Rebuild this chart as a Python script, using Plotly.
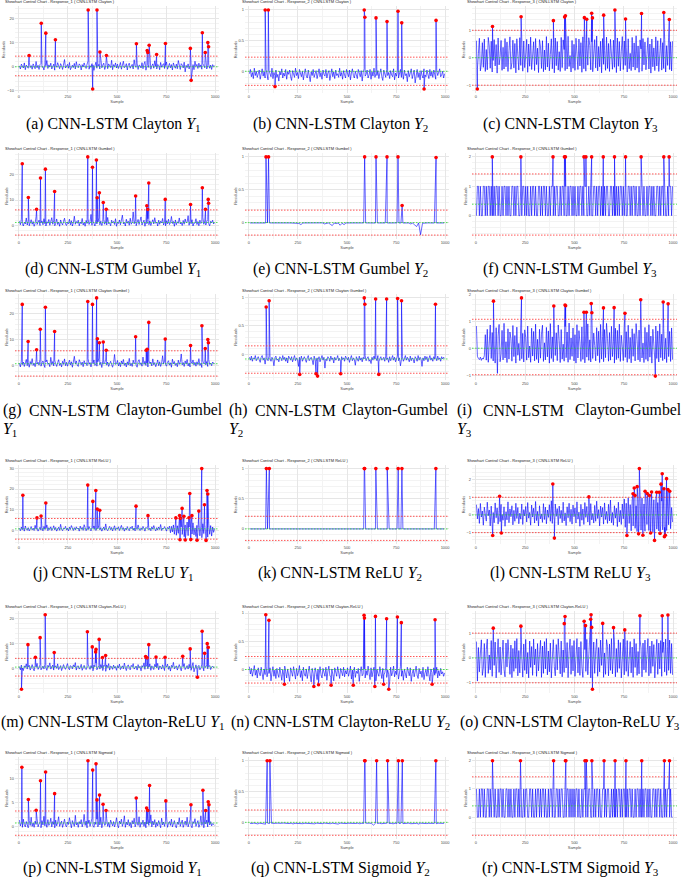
import plotly.graph_objects as go

# ---------------------------------------------------------------------------
# residual series (one base value per ~5
# samples, plus the spikes / out-of-control points listed separately)
# limits are (UCL, centre, LCL)
# ---------------------------------------------------------------------------

# (a) CNN-LSTM Clayton, Response_1
a_base = [0.4, -0.9, 1.1, 0.2, -0.5, 1.6, -1.2, 0.7, 0.1, -0.6,
          1.9, -0.3, 0.5, -1.0, 1.2, 0.3, -0.8, 2.2, -0.4, 0.6,
          -1.1, 0.9, 1.4, -0.2, 0.0, -1.3, 1.0, 0.4, 2.6, -0.7,
          0.8, -0.1, 1.5, -0.9, 0.3, 1.1, -1.4, 0.6, -0.2, 1.7,
          0.2, -0.8, 1.3, 0.5, -1.1, 0.9, 3.0, -0.5, 0.4, 1.0,
          -0.6, 1.8, -1.2, 0.2, 0.7, -0.3, 1.4, -0.9, 2.1, 0.1,
          -0.4, 1.2, 0.6, -1.3, 0.9, -0.1, 1.6, 0.3, -0.7, 1.1,
          2.4, -1.0, 0.5, -0.2, 1.3, 0.8, -1.5, 0.4, 1.9, -0.6,
          0.2, 1.0, -0.9, 3.3, -0.4, 0.7, 1.5, -1.1, 0.3, 2.0,
          -0.8, 1.2, 0.6, -0.3, 2.7, -1.2, 0.9, 0.1, 1.6, -0.5,
          1.1, -0.7, 0.4, 1.8, -1.0, 0.6, 2.3, -0.4, 0.0, 1.3,
          -1.3, 0.8, 1.5, -0.6, 0.3, 1.0, -0.9, 2.9, 0.2, -0.2,
          1.4, -1.1, 0.7, 0.5, -0.5, 1.7, -0.8, 1.1, 2.2, -1.4,
          0.3, 0.9, -0.3, 1.6, -1.0, 0.4, 1.2, -0.6, 2.5, 0.1,
          -0.9, 1.0, 0.6, -1.2, 1.8, -0.2, 0.8, 1.3, -0.7, 0.5,
          2.0, -1.0, 0.2, 1.4, -0.4, 0.9, -1.3, 1.6, 0.3, -0.6,
          1.1, -0.8, 2.6, 0.0, -1.1, 1.3, 0.7, -0.5, 1.9, -2.1,
          0.6, -0.3, 1.2, -0.9, 0.4, 1.7, -0.6, 0.9, -1.2, 2.3,
          0.2, 1.0, -0.7, 1.5, -0.2, 0.8, -1.0, 1.3, 0.5, -0.4,
          1.8, -0.9, 0.3, 1.1, -0.6, 0.7, -1.1, 0.9, 0.2, 0.4]
a_spk = [(52, 4.7), (114, 18.0), (137, 13.9), (186, 11.2), (353, 23.5), (376, -9.2),
         (398, 23.5), (413, 6.1), (446, 4.7), (599, 9.5), (654, 6.7), (657, 5.9),
         (664, 8.9), (702, 5.1), (747, 9.6), (874, 7.6), (878, -5.6), (935, 14.1),
         (950, 5.9), (963, 10.0), (967, 8.3)]
a_lim = (4.4, 0.0, -3.7)

# (b) CNN-LSTM Clayton, Response_2
b_base = [-0.04, 0.03, -0.09, -0.02, -0.12, 0.05, -0.07, 0.00, -0.10, -0.03,
          0.02, -0.13, -0.05, 0.04, -0.08, -0.01, -0.11, 0.03, -0.06, -0.14,
          0.01, -0.04, -0.09, 0.05, -0.12, -0.02, -0.07, 0.02, -0.10, -0.05,
          -0.16, 0.00, -0.06, 0.04, -0.11, -0.03, -0.08, 0.03, -0.13, -0.01,
          -0.05, 0.02, -0.09, -0.15, 0.01, -0.04, -0.10, 0.05, -0.07, -0.02,
          -0.12, 0.03, -0.06, -0.09, 0.00, -0.14, -0.03, 0.04, -0.08, -0.11,
          0.02, -0.05, -0.17, -0.01, -0.07, 0.03, -0.10, -0.04, 0.01, -0.12,
          -0.06, 0.04, -0.09, -0.02, -0.13, 0.02, -0.05, -0.08, 0.03, -0.11,
          -0.03, 0.01, -0.15, -0.06, 0.04, -0.09, -0.01, -0.12, 0.02, -0.07,
          -0.04, -0.10, 0.05, -0.08, -0.02, -0.13, 0.01, -0.06, -0.11, 0.03,
          -0.05, -0.09, 0.02, -0.14, -0.03, 0.04, -0.07, -0.11, 0.00, -0.06,
          -0.12, 0.03, -0.04, -0.09, 0.01, -0.16, -0.02, 0.04, -0.08, -0.05,
          0.02, -0.11, -0.06, 0.03, -0.13, -0.01, -0.08, 0.05, -0.10, -0.04,
          -0.07, 0.01, -0.12, -0.03, 0.04, -0.09, -0.15, 0.02, -0.05, -0.10,
          0.03, -0.07, -0.02, -0.12, 0.01, -0.06, -0.09, 0.04, -0.14, -0.03,
          -0.08, 0.02, -0.11, -0.05, 0.03, -0.10, -0.01, -0.13, 0.02, -0.07,
          -0.04, -0.17, 0.01, -0.09, -0.03, 0.04, -0.12, -0.06, 0.02, -0.19,
          -0.05, 0.03, -0.10, -0.02, -0.14, 0.01, -0.07, -0.11, 0.04, -0.06,
          -0.09, 0.02, -0.04, -0.12, 0.03, -0.08, -0.01, -0.10, 0.02, -0.05,
          -0.13, 0.01, -0.07, -0.03, 0.04, -0.09, -0.06, 0.00, -0.11, -0.04]
b_spk = [(83, 1.0), (99, 1.0), (133, -0.25), (588, 1.0), (591, 0.88), (648, 0.87),
         (704, 0.81), (760, 0.98), (779, 0.79), (893, -0.29), (954, 0.83)]
b_lim = (0.23, 0.0, -0.23)

# (c) CNN-LSTM Clayton, Response_3
c_base = [0.62, -0.40, 0.15, 0.71, -0.48, -0.22, 0.55, -0.35, 0.68, -0.50,
          0.30, -0.44, 0.74, 0.42, -0.38, 0.60, -0.52, -0.10, 0.66, -0.30,
          0.48, -0.56, 0.72, -0.26, 0.05, 0.63, -0.46, 0.38, -0.41, 0.70,
          -0.33, 0.57, -0.50, 0.25, 0.76, -0.42, -0.18, 0.64, -0.37, 0.52,
          -0.55, 0.69, 0.20, -0.45, 0.73, -0.28, 0.44, -0.49, 0.61, -0.36,
          0.10, 0.67, -0.53, 0.50, -0.31, 0.75, -0.43, -0.05, 0.58, -0.47,
          0.70, -0.25, 0.35, -0.54, 0.66, 0.40, -0.39, 0.62, -0.51, 0.28,
          -0.44, 0.77, -0.34, 0.53, -0.48, 0.12, 0.69, -0.40, 0.46, -0.55,
          0.72, -0.29, 0.59, -0.45, 0.22, -0.50, 0.74, -0.36, 0.65, 0.30,
          -0.47, 0.56, -0.41, 0.78, -0.32, 0.08, -0.52, 0.63, -0.38, 0.49,
          -0.46, 0.71, 0.18, -0.43, 0.68, -0.30, 0.55, -0.53, 0.76, -0.40,
          0.34, -0.49, 0.62, -0.27, 0.73, 0.45, -0.44, 0.58, -0.51, 0.14,
          0.66, -0.37, 0.79, -0.48, 0.41, -0.33, 0.60, -0.55, 0.70, -0.24,
          0.27, -0.46, 0.75, -0.39, 0.52, -0.50, 0.67, 0.02, -0.42, 0.64,
          -0.35, 0.47, -0.54, 0.72, -0.31, 0.59, -0.48, 0.24, 0.77, -0.43,
          0.61, -0.28, 0.38, -0.52, 0.69, -0.40, 0.16, -0.47, 0.74, -0.34,
          0.54, -0.45, 0.80, -0.37, 0.43, -0.53, 0.65, 0.32, -0.49, 0.70,
          -0.26, 0.57, -0.44, 0.11, 0.73, -0.41, 0.50, -0.56, 0.68, -0.33,
          0.36, -0.47, 0.76, -0.30, 0.62, -0.50, 0.21, 0.71, -0.45, 0.55,
          -0.39, 0.66, -0.52, 0.44, -0.28, 0.75, -0.43, 0.58, -0.48, 0.60]
c_spk = [(7, -1.14), (84, 1.14), (229, 1.49), (393, 1.35), (450, 1.48), (454, 1.53),
         (550, 1.46), (562, 1.40), (587, 1.62), (591, 1.45), (648, 1.55), (705, 1.74),
         (759, 1.41), (840, 1.61), (953, 1.65), (981, 1.39)]
c_lim = (1.0, 0.0, -1.0)

# (d) CNN-LSTM Gumbel, Response_1
d_base = [1.6, 0.2, 2.4, 0.7, -0.3, 1.3, 0.5, 2.9, 0.1, 1.8,
          -0.2, 1.0, 2.2, 0.4, 1.5, -0.4, 0.8, 3.4, 0.3, 1.2,
          2.0, -0.1, 0.9, 1.7, 0.2, 2.6, 0.6, -0.3, 1.4, 0.8,
          2.3, 0.0, 1.1, 3.0, 0.4, 1.9, -0.2, 0.7, 2.5, 0.3,
          1.3, -0.4, 2.1, 0.9, 0.1, 1.6, 2.8, 0.5, -0.1, 1.2,
          0.6, 2.4, 0.2, 1.8, -0.3, 1.0, 3.6, 0.4, 1.5, 0.8,
          2.0, -0.2, 1.3, 0.6, 2.7, 0.1, 1.1, -0.4, 1.9, 0.7,
          2.5, 0.3, 1.4, 4.3, 0.0, 1.7, 0.9, -0.3, 2.2, 0.5,
          1.2, 2.9, 0.2, 1.6, -0.1, 0.8, 2.3, 0.4, 1.9, 0.1,
          3.1, 0.6, 1.0, -0.2, 2.0, 0.9, 1.5, 0.3, 2.6, -0.4,
          1.3, 0.7, 2.1, 0.2, 1.8, 4.0, 0.5, 1.1, -0.3, 2.4,
          0.8, 1.6, 0.0, 2.8, 0.4, 1.2, 5.3, 0.6, 1.9, -0.2,
          1.0, 2.3, 0.3, 1.5, 3.3, 0.1, 0.9, 2.0, -0.4, 1.4,
          0.6, 2.6, 0.2, 1.7, -0.1, 1.1, 2.2, 0.5, 3.0, 0.8,
          1.3, -0.3, 2.0, 0.4, 1.6, 0.9, 2.7, 0.1, 1.2, -0.2,
          1.8, 0.6, 2.4, 0.3, 1.0, 3.5, 0.7, 1.5, -0.4, 2.1,
          0.2, 1.4, 0.8, 2.9, 0.5, 1.1, -0.1, 1.9, 0.4, 2.5,
          0.9, 1.3, 3.8, 0.0, 1.7, 0.6, 2.2, -0.3, 1.0, 0.8,
          2.6, 0.3, 1.5, -0.2, 2.0, 0.7, 1.2, 3.1, 0.4, 1.8,
          0.1, 1.4, 2.3, 0.6, -0.2, 1.6, 0.9, 2.0, 0.5, 1.1]
d_spk = [(17, 24.4), (48, 11.0), (90, 6.3), (110, 18.75), (135, 22.25), (182, 13.4),
         (351, 27.1), (375, 23.0), (395, 25.9), (399, 10.9), (410, 12.9), (430, 9.0),
         (445, 6.3), (595, 11.6), (652, 7.75), (657, 6.25), (662, 16.75), (746, 10.25),
         (875, 8.25), (935, 14.9), (951, 6.3), (965, 10.25), (967, 8.75)]
d_lim = (6.1, 1.1, -3.9)

# (e) CNN-LSTM Gumbel, Response_2
e_base = [-0.005, -0.005, -0.006, -0.005, -0.005, -0.004, -0.005, -0.005, -0.006, -0.005,
          -0.005, -0.005, -0.004, -0.005, -0.006, -0.005, -0.005, -0.005, -0.004, -0.005,
          -0.005, -0.006, -0.005, -0.005, -0.005, -0.012, -0.030, -0.006, -0.005, -0.005,
          -0.004, -0.005, -0.005, -0.006, -0.005, -0.005, -0.005, -0.004, -0.020, -0.008,
          -0.005, -0.025, -0.045, -0.006, -0.015, -0.005, -0.040, -0.010, -0.030, -0.005,
          -0.005, -0.006, -0.005, -0.005, -0.004, -0.005, -0.005, -0.006, -0.005, -0.005,
          -0.005, -0.004, -0.005, -0.005, -0.006, -0.005, -0.005, -0.005, -0.004, -0.005,
          -0.005, -0.006, -0.005, -0.005, -0.005, -0.004, -0.005, -0.005, -0.006, -0.005,
          -0.012, -0.005, -0.020, -0.008, -0.035, -0.060, -0.005, -0.185, -0.010, -0.005,
          -0.005, -0.004, -0.005, -0.005, -0.006, -0.005, -0.005, -0.005, -0.004, -0.005]
e_spk = [(87, 1.0), (100, 1.0), (590, 1.0), (648, 1.0), (704, 1.0), (760, 1.0),
         (781, 0.26), (954, 0.99)]
e_lim = (0.19, 0.0, -0.19)

# (f) CNN-LSTM Gumbel, Response_3 (two levels, spikes to the third)
f_bits = ("0110100110101101001011010010110101001101011001011010100101101001101011010010110101100101101001011010"
          "1001011010110010100110101101001011001101001010110101001101011010010110100101101010011010110100101101")
f_spk = [(83, 2), (228, 2), (391, 2), (449, 2), (454, 2), (548, 2), (558, 2), (587, 2),
         (646, 2), (703, 2), (759, 2), (838, 2), (953, 2), (980, 2)]
f_lim = (1.42, 0.39, -0.66)

# (g) CNN-LSTM Clayton-Gumbel, Response_1
g_base = [1.1, -0.4, 2.0, 0.5, 1.5, -0.2, 0.8, 2.5, 0.1, 1.3,
          -0.5, 1.7, 0.6, 2.8, 0.2, 1.0, -0.3, 2.2, 0.7, 1.4,
          0.3, 2.6, -0.1, 1.2, 1.9, 0.4, -0.6, 1.5, 2.3, 0.6,
          1.1, -0.3, 3.3, 0.5, 1.7, 0.0, 2.1, 0.9, -0.2, 1.3,
          2.4, 0.2, 1.0, -0.4, 1.8, 0.6, 2.7, 0.1, 1.4, -0.1,
          0.9, 2.2, 0.4, 1.6, -0.5, 1.1, 3.7, 0.7, 1.9, 0.3,
          -0.2, 2.4, 1.0, 0.4, 1.5, -0.3, 2.0, 0.8, 1.2, 0.1,
          2.8, 0.6, 1.3, -0.4, 1.7, 0.9, 2.3, 0.2, 1.0, -0.1,
          1.6, 3.0, 0.4, 1.4, -0.6, 2.0, 0.7, 1.1, 2.6, 0.3,
          1.5, -0.2, 0.9, 1.8, 0.5, -0.5, 1.2, 4.4, 0.6, 0.8,
          2.1, 0.0, 1.3, -0.3, 1.9, 0.7, 2.5, 0.2, 1.1, -0.4,
          1.6, 0.4, 2.9, 0.1, 1.0, -0.2, 2.2, 0.8, 1.4, 0.3,
          -0.5, 1.7, 2.4, 0.5, 1.2, -0.1, 3.4, 0.6, 1.8, 0.2,
          1.0, -0.4, 2.1, 0.9, 1.5, 0.0, 2.7, 0.4, 1.3, -0.3,
          0.8, 2.3, 0.1, 1.6, -0.2, 1.1, 3.9, 0.7, 1.9, 0.5,
          -0.1, 1.4, 2.0, 0.3, 1.2, -0.5, 2.6, 0.8, 1.7, 0.2,
          1.0, -0.3, 2.2, 0.6, 1.5, 4.6, 0.4, 1.3, -0.2, 1.9,
          0.7, 2.5, 0.0, 1.1, -0.4, 1.8, 0.9, 2.3, 0.3, 1.4,
          -0.1, 1.6, 0.5, 2.8, 0.2, 1.0, -0.6, 2.0, 0.8, 1.2,
          0.4, 1.7, -0.2, 2.4, 0.6, 1.1, 0.1, 1.5, 0.9, 0.7]
g_spk = [(17, 23.6), (47, 9.4), (90, 6.2), (109, 14.1), (135, 22.5), (182, 13.2),
         (351, 24.7), (375, 23.6), (396, 26.1), (400, 10.4), (410, 8.9), (430, 9.2),
         (445, 6.0), (595, 11.2), (649, 6.0), (654, 6.4), (662, 16.7), (746, 10.3),
         (875, 7.8), (933, 15.4), (950, 6.7), (963, 10.1), (966, 8.9)]
g_lim = (5.8, 0.85, -3.9)

# (h) CNN-LSTM Clayton-Gumbel, Response_2
h_base = [-0.05, -0.10, -0.03, -0.12, -0.06, -0.08, -0.02, -0.11, -0.07, -0.04,
          -0.09, -0.14, -0.05, -0.02, -0.10, -0.06, -0.17, -0.04, -0.08, -0.11,
          -0.03, -0.07, -0.12, -0.05, -0.09, -0.20, -0.06, -0.03, -0.10, -0.08,
          -0.13, -0.04, -0.07, -0.11, -0.02, -0.09, -0.05, -0.12, -0.06, -0.15,
          -0.03, -0.08, -0.10, -0.04, -0.13, -0.07, -0.02, -0.11, -0.06, -0.09,
          -0.21, -0.05, -0.10, -0.03, -0.12, -0.08, -0.04, -0.09, -0.14, -0.06,
          -0.02, -0.11, -0.07, -0.05, -0.10, -0.18, -0.03, -0.08, -0.12, -0.06,
          -0.09, -0.04, -0.13, -0.07, -0.02, -0.10, -0.05, -0.24, -0.08, -0.11,
          -0.04, -0.07, -0.12, -0.03, -0.09, -0.06, -0.15, -0.05, -0.10, -0.08,
          -0.02, -0.11, -0.07, -0.13, -0.04, -0.09, -0.06, -0.12, -0.03, -0.08,
          -0.10, -0.05, -0.14, -0.07, -0.02, -0.11, -0.06, -0.09, -0.19, -0.04,
          -0.08, -0.12, -0.03, -0.10, -0.06, -0.13, -0.05, -0.08, -0.02, -0.11,
          -0.07, -0.04, -0.12, -0.09, -0.16, -0.05, -0.10, -0.03, -0.08, -0.06,
          -0.11, -0.02, -0.13, -0.07, -0.04, -0.10, -0.08, -0.05, -0.12, -0.03,
          -0.09, -0.06, -0.14, -0.04, -0.11, -0.07, -0.02, -0.10, -0.05, -0.13,
          -0.08, -0.03, -0.11, -0.06, -0.20, -0.09, -0.04, -0.12, -0.07, -0.02,
          -0.10, -0.05, -0.08, -0.13, -0.03, -0.11, -0.06, -0.09, -0.15, -0.04,
          -0.07, -0.12, -0.02, -0.10, -0.05, -0.08, -0.21, -0.06, -0.11, -0.03,
          -0.09, -0.04, -0.13, -0.07, -0.02, -0.10, -0.06, -0.12, -0.04, -0.08,
          -0.05, -0.11, -0.03, -0.09, -0.06, -0.12, -0.04, -0.08, -0.05, -0.07]
h_spk = [(88, 0.83), (103, 0.94), (259, -0.35), (342, -0.34), (350, -0.38), (468, -0.34),
         (588, 0.99), (591, 0.88), (646, 0.97), (662, -0.35), (702, 0.97), (758, 0.98),
         (778, 0.94), (951, 0.88)]
h_lim = (0.15, -0.08, -0.33)

# (i) CNN-LSTM Clayton-Gumbel, Response_3
i_base = [0.82, -0.30, -0.38, -0.42, -0.33, -0.45, -0.36, -0.40, -0.28, 0.50,
          -0.44, 0.70, -0.52, 0.30, 0.86, -0.38, 0.58, -0.47, 0.12, -0.55,
          0.76, -0.34, 0.45, 0.88, -0.50, -0.22, 0.66, -0.43, 0.92, -0.36,
          0.24, -0.53, 0.72, -0.40, 0.60, 0.35, -0.48, 0.84, -0.31, 0.47,
          -0.55, 0.78, -0.26, 0.18, -0.46, 0.90, -0.39, 0.55, -0.51, 0.68,
          0.40, -0.44, 0.82, -0.35, 0.08, -0.52, 0.74, -0.29, 0.62, -0.47,
          0.89, -0.41, 0.33, -0.54, 0.70, -0.37, 0.52, 0.85, -0.49, 0.20,
          -0.43, 0.77, -0.32, 0.64, -0.55, 0.91, -0.38, 0.42, -0.50, 0.73,
          -0.27, 0.57, -0.46, 0.86, 0.28, -0.53, 0.69, -0.40, 0.15, -0.48,
          0.80, -0.35, 0.60, -0.52, 0.93, -0.42, 0.38, -0.30, 0.75, -0.47,
          0.50, -0.55, 0.87, -0.36, 0.65, 0.22, -0.49, 0.79, -0.41, 0.46,
          -0.54, 0.71, -0.33, 0.90, -0.45, 0.31, -0.51, 0.83, -0.38, 0.56,
          0.10, -0.47, 0.76, -0.28, 0.63, -0.53, 0.88, -0.40, 0.43, -0.50,
          0.69, -0.35, 0.92, 0.36, -0.48, 0.58, -0.44, 0.81, -0.31, 0.26,
          -0.55, 0.74, -0.42, 0.66, -0.37, 0.89, -0.49, 0.48, 0.05, -0.46,
          0.78, -0.34, 0.61, -0.52, 0.85, -0.39, 0.40, -0.54, 0.72, -0.30,
          0.54, -0.47, 0.91, 0.32, -0.43, 0.67, -0.50, 0.84, -0.36, 0.19,
          -0.53, 0.77, -0.41, 0.59, -0.48, 0.87, -0.33, 0.45, -0.55, 0.70,
          0.27, -0.44, 0.82, -0.38, 0.64, -0.51, 0.90, -0.35, 0.52, -0.46,
          0.73, -0.40, 0.37, -0.53, 0.80, -0.31, 0.62, -0.49, 0.75, -0.42]
i_spk = [(89, 1.74), (109, -0.93), (231, 1.86), (395, 1.56), (452, 1.60), (455, 1.57),
         (548, 1.33), (560, 1.33), (585, 1.65), (588, 1.31), (647, 1.49), (701, 1.50),
         (756, 1.29), (836, 1.79), (910, -1.03), (950, 1.71), (975, 1.64)]
i_lim = (1.07, 0.0, -0.98)

# (j) CNN-LSTM ReLU, Response_1
j_base = [1.0, -0.2, 1.6, 0.3, 1.1, -0.4, 2.1, 0.6, 0.0, 1.3,
          -0.3, 0.8, 1.8, 0.2, 1.0, -0.1, 2.4, 0.5, 1.2, -0.4,
          0.7, 1.5, 0.1, 1.1, -0.3, 1.9, 0.4, 0.9, 2.6, -0.2,
          1.3, 0.3, 1.7, -0.1, 0.6, 2.2, 0.2, 1.4, -0.4, 0.8,
          1.5, 0.0, 2.9, 0.5, -0.2, 1.2, 0.7, 1.9, 0.1, 1.0,
          -0.3, 1.6, 0.4, 2.3, 0.8, -0.1, 1.3, 0.2, 1.7, 0.6,
          1.1, -0.4, 2.0, 0.5, 1.4, 0.0, 2.7, 0.9, -0.2, 1.2,
          0.3, 1.8, 0.6, -0.3, 1.5, 0.9, 2.1, 0.4, -0.1, 1.1,
          0.7, 2.5, 0.2, 1.3, -0.4, 0.8, 1.6, 0.1, 3.1, 0.5,
          -0.2, 1.0, 1.9, 0.3, 1.4, -0.3, 0.7, 2.2, 0.0, 1.2,
          0.6, 1.7, -0.1, 0.9, 2.4, 0.4, 1.3, -0.4, 1.0, 0.2,
          1.8, 0.5, -0.2, 1.5, 0.8, 2.0, 0.1, 1.1, -0.3, 1.6,
          0.4, 2.6, 0.7, -0.1, 1.2, 0.3, 1.9, 0.6, -0.4, 1.4,
          0.9, 2.1, 0.2, 1.0, -0.2, 1.7, 0.5, 2.3, 0.8, -0.3,
          1.3, 0.1, 1.6, 0.4, 2.8, -0.1, 1.1, 0.6, 1.8, 0.2,
          -0.4, 1.4, 0.7, 2.0, -1.2, 1.9, -0.8, 2.6, -1.9, 3.0,
          -2.4, 2.2, -1.5, 3.8, -2.9, 1.7, -2.0, 3.4, -3.1, 2.6,
          -1.3, 4.0, -2.6, 1.5, -3.4, 2.9, -1.8, 3.6, -2.2, 1.2,
          -3.0, 2.4, -1.1, 3.9, -2.7, 2.0, -3.6, 3.2, -1.6, 2.7,
          -2.3, 1.8, -3.3, 3.5, -1.9, 2.3, -2.8, 1.6, -1.0, 0.9]
j_spk = [(20, 17.0), (92, 6.0), (113, 6.9), (137, 13.2), (351, 21.9), (377, 14.0),
         (392, 19.3), (399, 10.3), (412, 9.7), (597, 11.7), (658, 7.1), (800, 6.0),
         (819, 7.2), (821, -4.6), (823, 5.8), (832, 10.6), (841, 6.8), (848, -4.7),
         (867, 6.1), (871, 17.8), (876, -4.5), (882, 7.1), (908, -4.8), (917, 9.3),
         (932, 29.9), (946, 12.4), (954, -4.9), (959, 19.3), (963, 17.6)]
j_lim = (5.7, 0.7, -4.3)

# (k) CNN-LSTM ReLU, Response_2 (flat at zero apart from the spikes)
k_base = [0.0, 0.0, 0.0, 0.0, 0.0, 0.0, 0.0, 0.0, 0.0, 0.0,
          0.0, 0.0, 0.0, 0.0, 0.0, 0.0, 0.0, 0.0, 0.0, 0.0,
          0.0, 0.0, 0.0, 0.0, 0.0, 0.0, 0.0, 0.0, 0.0, 0.0,
          0.0, 0.0, 0.0, 0.0, 0.0, 0.0, 0.0, 0.0, 0.0, 0.0,
          0.0, 0.0, 0.0, 0.0, 0.0, 0.0, 0.0, 0.0, 0.0, 0.0,
          0.0, 0.0, 0.0, 0.0, 0.0, 0.0, 0.0, 0.0, 0.0, 0.0,
          0.0, 0.0, 0.0, 0.0, 0.0, 0.0, 0.0, 0.0, 0.0, 0.0,
          0.0, 0.0, 0.0, 0.0, 0.0, 0.0, 0.0, 0.0, 0.0, 0.0,
          0.0, 0.0, 0.0, 0.0, 0.0, 0.0, 0.0, 0.0, 0.0, 0.0,
          0.0, 0.0, 0.0, 0.0, 0.0, 0.0, 0.0, 0.0, 0.0, 0.0]
k_spk = [(89, 1.0), (104, 1.0), (588, 1.0), (590, 1.0), (647, 1.0), (705, 1.0),
         (761, 1.0), (780, 1.0), (953, 1.0)]
k_lim = (0.21, 0.0, -0.19)

# (l) CNN-LSTM ReLU, Response_3
l_base = [0.58, -0.22, 0.36, -0.48, 0.65, -0.12, 0.22, -0.58, 0.44, 0.10,
          -0.35, 0.72, -0.05, 0.28, -0.62, 0.50, -0.26, 0.14, -0.44, 0.68,
          -0.16, 0.40, -0.52, 0.24, -0.38, 0.60, 0.02, -0.30, 0.46, -0.64,
          0.18, -0.28, 0.74, -0.44, 0.34, -0.10, 0.52, -0.56, 0.26, -0.36,
          0.66, -0.20, 0.42, -0.50, 0.10, -0.24, 0.62, -0.54, 0.30, -0.06,
          0.48, -0.40, 0.70, -0.18, 0.14, -0.58, 0.56, -0.12, 0.38, -0.46,
          0.76, -0.32, 0.20, -0.62, 0.52, -0.22, 0.06, -0.42, 0.64, -0.26,
          0.44, -0.50, 0.28, -0.14, 0.58, -0.36, 0.80, -0.48, 0.18, -0.30,
          0.62, -0.08, 0.36, -0.56, 0.50, -0.20, 0.26, -0.44, 0.72, -0.34,
          0.12, -0.60, 0.46, -0.16, 0.66, -0.38, 0.32, -0.52, 0.56, -0.10,
          0.40, -0.46, 0.74, -0.24, 0.16, -0.64, 0.60, -0.30, 0.34, -0.54,
          0.70, -0.14, 0.48, -0.40, 0.22, -0.58, 0.64, -0.28, 0.08, -0.46,
          0.54, -0.36, 0.78, -0.20, 0.30, -0.62, 0.50, -0.12, 0.42, -0.52,
          0.68, -0.26, 0.20, -0.48, 0.60, -0.34, 0.84, -0.44, 0.14, -0.58,
          0.52, -0.18, 0.38, -0.66, 0.72, -0.40, 0.26, -0.54, 0.62, -0.22,
          0.90, -0.70, 0.66, -0.82, 0.96, -0.48, 0.58, -0.90, 0.84, -0.62,
          0.98, -0.76, 0.52, -0.94, 0.88, -0.58, 0.74, -0.86, 0.95, -0.68,
          0.62, -0.92, 0.90, -0.54, 0.80, -0.88, 0.97, -0.72, 0.56, -0.96,
          0.86, -0.64, 0.93, -0.80, 0.70, -0.90, 0.98, -0.60, 0.78, -0.84,
          0.92, -0.70, 0.64, -0.88, 0.85, -0.56, 0.60, -0.78, 0.42, -0.40]
l_spk = [(85, -1.16), (120, 1.05), (129, -1.02), (390, 1.75), (398, -1.31), (573, 1.02),
         (766, -1.16), (797, 1.2), (803, 1.52), (807, 1.1), (818, 1.6), (825, -1.07),
         (829, 2.62), (847, -1.15), (858, 1.34), (869, 1.21), (880, 1.1), (886, -1.02),
         (891, 1.3), (906, -1.44), (917, 1.28), (930, 1.28), (934, -1.05), (939, 1.74),
         (945, 2.33), (954, 1.48), (956, -1.23), (961, -1.15), (967, 2.05), (974, 1.44),
         (983, 1.34)]
l_lim = (1.0, 0.0, -1.0)

# (m) CNN-LSTM Clayton-ReLU, Response_1
m_base = [0.8, -0.5, 1.4, 0.2, -0.8, 1.1, 0.5, 1.9, -0.2, 0.7,
          1.3, -0.6, 0.3, 1.6, 0.0, -0.9, 1.2, 0.6, 2.1, -0.3,
          0.9, 1.5, -0.5, 0.2, 1.0, -0.1, 1.7, 0.4, -0.7, 1.3,
          0.6, 2.3, -0.2, 0.8, 1.4, -0.6, 0.5, 1.1, 0.1, 1.9,
          -0.4, 0.7, 1.2, -0.8, 0.3, 1.6, 0.4, -0.3, 1.0, 2.0,
          0.2, -0.5, 1.2, 0.8, -0.1, 1.5, 0.6, 2.4, -0.6, 0.9,
          1.1, -0.2, 0.4, 1.7, -0.7, 0.8, 1.3, 0.1, -0.4, 1.0,
          1.8, 0.5, -0.3, 1.2, 0.2, -0.9, 1.4, 0.7, 2.2, -0.5,
          0.6, 1.1, -0.2, 1.6, 0.3, -0.8, 1.3, 0.9, -1.1, 1.5,
          0.4, 2.0, -0.6, 1.0, 0.7, -0.3, 1.4, 0.2, 0.8, -0.7,
          1.2, 0.3, 1.8, -0.4, 0.6, 1.1, -0.1, 2.2, 0.5, -0.8,
          0.9, 1.5, 0.0, -0.5, 1.3, 0.7, 2.0, -0.2, 0.4, 1.0,
          -0.6, 1.6, 0.3, 0.9, -0.9, 1.2, 0.5, 2.3, -0.3, 0.8,
          1.4, -0.1, 0.6, 1.9, -0.7, 1.1, 0.2, -0.4, 1.7, 0.7,
          0.3, 2.1, -0.5, 1.0, 0.8, -0.2, 1.5, 0.4, -0.8, 1.2,
          0.6, 1.8, -0.3, 0.9, -1.0, 1.3, 0.5, 2.5, -0.1, 0.7,
          1.1, -0.6, 0.4, 1.6, 0.2, -0.9, 1.4, 0.8, 2.0, -0.4,
          0.5, 1.2, -0.2, 1.7, 0.3, -0.7, 1.0, 2.4, -1.3, 0.6,
          1.5, -0.3, 0.9, 1.3, -0.5, 0.2, 1.8, 0.7, -0.9, 1.1,
          0.4, 1.6, -0.1, 0.8, 1.2, -0.4, 0.6, 1.0, 0.3, 0.7]
m_spk = [(13, -8.3), (46, 9.6), (84, 4.5), (108, 12.4), (134, 21.6), (180, 6.4),
         (349, 14.8), (374, 8.7), (391, 6.7), (393, 7.7), (409, 11.7), (426, 4.4),
         (442, 5.2), (646, 4.8), (653, 4.3), (662, 9.6), (699, 4.6), (745, 4.5),
         (835, 4.9), (873, 7.9), (910, -3.5), (934, 15.0), (947, 6.1), (960, 10.0),
         (965, 8.5)]
m_lim = (4.1, 0.6, -3.0)

# (n) CNN-LSTM Clayton-ReLU, Response_2
n_base = [0.05, -0.08, 0.02, -0.12, -0.03, 0.07, -0.10, -0.01, -0.15, 0.03,
          -0.06, -0.11, 0.04, -0.04, -0.18, 0.01, -0.09, 0.06, -0.13, -0.02,
          -0.07, 0.03, -0.20, -0.05, 0.05, -0.12, -0.01, -0.16, 0.02, -0.08,
          -0.14, 0.04, -0.06, -0.19, 0.00, -0.10, 0.06, -0.04, -0.15, 0.01,
          -0.09, -0.21, 0.03, -0.07, -0.12, 0.05, -0.03, -0.17, 0.02, -0.11,
          -0.05, 0.07, -0.14, -0.02, -0.20, 0.04, -0.08, -0.12, 0.01, -0.16,
          -0.04, 0.06, -0.10, -0.22, 0.02, -0.07, -0.13, 0.03, -0.05, -0.18,
          0.00, -0.11, 0.05, -0.09, -0.15, 0.02, -0.06, -0.12, 0.04, -0.19,
          -0.03, 0.06, -0.10, -0.14, 0.01, -0.08, -0.20, 0.03, -0.05, -0.12,
          0.05, -0.09, -0.16, 0.02, -0.06, -0.11, 0.04, -0.13, -0.02, -0.08,
          0.03, -0.12, -0.05, 0.06, -0.17, -0.01, -0.09, 0.04, -0.14, -0.03,
          -0.07, 0.02, -0.21, -0.04, 0.05, -0.11, -0.08, 0.01, -0.15, -0.02,
          -0.10, 0.06, -0.06, -0.18, 0.03, -0.13, -0.03, 0.04, -0.09, -0.20,
          0.00, -0.07, -0.12, 0.05, -0.04, -0.16, 0.02, -0.10, -0.06, 0.03,
          -0.14, -0.01, -0.08, -0.22, 0.04, -0.11, -0.05, 0.06, -0.13, -0.03,
          -0.09, 0.02, -0.17, -0.06, 0.05, -0.12, -0.02, -0.19, 0.01, -0.08,
          -0.15, 0.04, -0.04, -0.11, 0.03, -0.21, -0.07, 0.00, -0.13, -0.05,
          0.06, -0.10, -0.16, 0.02, -0.08, -0.03, -0.14, 0.04, -0.18, -0.06,
          -0.01, -0.12, 0.05, -0.09, -0.20, 0.01, -0.05, -0.13, 0.03, -0.10,
          -0.07, 0.04, -0.15, -0.02, -0.11, 0.02, -0.08, -0.04, -0.12, -0.06]
n_spk = [(86, 0.97), (102, 0.87), (181, -0.26), (331, -0.30), (355, -0.27), (419, -0.28),
         (532, -0.28), (587, 0.96), (589, 0.91), (642, -0.30), (645, 0.94), (687, -0.26),
         (702, 0.90), (713, -0.35), (757, 0.93), (777, 0.83), (934, -0.26), (949, 0.88)]
n_lim = (0.23, 0.0, -0.24)

# (o) CNN-LSTM Clayton-ReLU, Response_3
o_base = [0.66, -0.93, 0.42, -0.56, 0.20, 0.73, -0.70, -0.40, 0.58, -0.78,
          0.34, 0.76, -0.62, 0.12, -0.48, 0.70, -0.74, 0.50, -0.30, 0.64,
          -0.80, 0.26, 0.77, -0.58, 0.44, -0.68, 0.08, 0.72, -0.46, -0.76,
          0.60, -0.36, 0.74, 0.18, -0.66, 0.52, -0.79, 0.38, -0.54, 0.69,
          -0.42, 0.78, -0.72, 0.30, -0.60, 0.62, 0.04, -0.77, 0.56, -0.50,
          0.75, -0.64, 0.22, -0.80, 0.68, -0.38, 0.46, -0.70, 0.76, -0.28,
          0.36, -0.74, 0.58, -0.52, 0.14, 0.71, -0.78, 0.48, -0.62, 0.66,
          -0.44, 0.78, -0.68, 0.28, -0.56, 0.60, -0.80, 0.40, 0.74, -0.34,
          -0.72, 0.54, -0.48, 0.77, 0.10, -0.64, 0.68, -0.76, 0.32, -0.58,
          0.72, -0.40, 0.62, -0.79, 0.24, 0.76, -0.66, 0.50, -0.52, 0.70,
          -0.74, 0.16, 0.78, -0.60, 0.44, -0.70, 0.66, -0.36, -0.78, 0.58,
          0.34, -0.54, 0.75, -0.68, 0.06, 0.70, -0.80, 0.52, -0.46, 0.64,
          -0.62, 0.28, 0.77, -0.74, 0.42, -0.56, 0.72, -0.30, 0.60, -0.78,
          0.20, -0.66, 0.74, 0.46, -0.72, 0.56, -0.50, 0.78, -0.64, 0.12,
          0.68, -0.76, 0.38, -0.58, 0.73, -0.42, 0.62, -0.80, 0.30, 0.76,
          -0.68, 0.50, -0.54, 0.70, -0.74, 0.18, 0.66, -0.60, 0.44, -0.78,
          0.77, -0.38, 0.58, -0.70, 0.26, -0.64, 0.74, 0.40, -0.76, 0.60,
          -0.48, 0.72, -0.58, 0.14, 0.78, -0.72, 0.48, -0.62, 0.68, -0.34,
          0.54, -0.80, 0.36, 0.75, -0.66, 0.60, -0.44, 0.70, -0.74, 0.22,
          0.64, -0.56, 0.76, -0.70, 0.46, -0.50, 0.72, -0.62, 0.58, -0.68]
o_spk = [(88, 1.2), (228, 1.28), (448, 1.38), (452, 1.67), (549, 1.48), (556, 1.3),
         (582, 1.56), (584, 1.74), (587, 1.23), (591, -1.26), (643, 1.39), (698, 1.22),
         (755, 1.13), (832, 1.7), (945, 1.7), (974, 1.73)]
o_lim = (1.0, 0.0, -1.0)

# (p) CNN-LSTM Sigmoid, Response_1
p_base = [1.4, 0.2, 0.9, -0.1, 1.6, 0.4, 0.0, 1.1, 0.6, -0.2,
          1.3, 0.3, 2.0, 0.1, 0.8, -0.1, 1.2, 0.5, 1.7, 0.0,
          0.6, 1.0, -0.2, 1.3, 0.4, 2.2, 0.2, 0.9, -0.1, 1.5,
          0.3, 0.7, 1.8, 0.0, 1.1, 0.5, -0.2, 1.4, 0.2, 0.9,
          2.1, 0.1, 0.6, 1.2, -0.1, 0.8, 1.6, 0.3, 0.0, 1.0,
          0.5, 1.9, 0.2, -0.2, 1.3, 0.7, 0.1, 2.4, 0.4, 0.9,
          -0.1, 1.1, 0.6, 1.5, 0.0, 0.8, 2.6, 0.3, 1.2, -0.2,
          0.7, 1.4, 0.1, 0.9, 1.8, 0.2, -0.1, 1.0, 0.5, 1.6,
          0.0, 1.2, 0.4, 2.0, -0.2, 0.8, 1.3, 0.3, 0.6, 1.7,
          0.1, 0.9, -0.1, 1.4, 0.5, 0.2, 1.1, 0.0, 0.7, 1.9,
          0.3, -0.2, 1.2, 0.6, 1.6, 0.1, 0.8, 2.3, -0.1, 1.0,
          0.4, 1.5, 0.2, 0.9, -0.2, 1.3, 0.6, 1.8, 0.0, 0.7,
          1.1, 0.3, 2.1, -0.1, 0.9, 0.5, 1.4, 0.1, 1.0, -0.2,
          0.6, 1.7, 0.3, 0.8, 2.5, 0.0, 1.2, 0.4, 1.5, -0.1,
          0.9, 0.2, 1.3, 0.6, -0.2, 1.8, 0.4, 1.0, 0.1, 1.4,
          2.2, -0.1, 0.7, 1.1, 0.3, 1.6, 0.0, 0.9, 1.3, 0.2,
          -0.2, 1.0, 0.5, 1.9, 0.1, 0.8, 1.4, -0.1, 0.6, 1.2,
          0.3, 2.0, 0.0, 0.9, 1.5, 0.2, -0.2, 1.1, 0.7, 1.7,
          0.1, 0.8, 1.3, -0.1, 0.5, 2.3, 0.3, 1.0, -0.2, 1.2,
          0.6, 1.4, 0.0, 0.9, 0.4, 1.1, 0.2, 0.7, 0.5, 0.3]
p_spk = [(15, 12.4), (48, 5.7), (88, 3.45), (110, 9.6), (136, 11.4), (182, 6.9),
         (352, 13.75), (376, 11.8), (393, 13.1), (398, 5.6), (411, 6.6), (429, 4.7),
         (444, 3.4), (598, 6.0), (651, 3.9), (657, 3.4), (666, 8.6), (749, 5.4),
         (877, 4.6), (938, 7.6), (952, 3.4), (965, 5.2), (969, 4.6)]
p_lim = (3.3, 0.8, -1.75)

# (q) CNN-LSTM Sigmoid, Response_2
q_base = [-0.015, -0.020, -0.012, -0.018, -0.025, -0.014, -0.020, -0.016, -0.030, -0.013,
          -0.019, -0.015, -0.022, -0.017, -0.014, -0.021, -0.016, -0.012, -0.018, -0.015,
          -0.020, -0.014, -0.026, -0.016, -0.019, -0.013, -0.017, -0.022, -0.015, -0.018,
          -0.012, -0.020, -0.016, -0.024, -0.014, -0.018, -0.015, -0.021, -0.013, -0.017,
          -0.016, -0.022, -0.014, -0.019, -0.015, -0.028, -0.013, -0.018, -0.016, -0.020,
          -0.014, -0.017, -0.021, -0.015, -0.019, -0.013, -0.023, -0.016, -0.018, -0.014,
          -0.020, -0.015, -0.017, -0.045, -0.016, -0.019, -0.014, -0.022, -0.015, -0.018,
          -0.013, -0.020, -0.016, -0.024, -0.015, -0.017, -0.019, -0.014, -0.021, -0.016,
          -0.018, -0.013, -0.022, -0.015, -0.019, -0.016, -0.027, -0.014, -0.018, -0.015,
          -0.020, -0.016, -0.013, -0.019, -0.017, -0.022, -0.014, -0.018, -0.015, -0.017]
q_spk = [(93, 1.0), (107, 1.0), (590, 1.0), (592, 1.0), (651, 1.0), (707, 1.0),
         (762, 1.0), (782, 1.0), (953, 1.0)]
q_lim = (0.2, 0.0, -0.21)

# (r) CNN-LSTM Sigmoid, Response_3
r_bits = ("1001011010011010110100101101001101010010110101001011001101001011010110100101101001101011001011010101"
          "0110100101101011001010110100110101100101001011010110010110100101101001011010100110101101001010110100")
r_spk = [(84, 2), (226, 2), (394, 2), (454, 2), (456, 2), (553, 2), (560, 2), (588, 2),
         (650, 2), (706, 2), (761, 2), (841, 2), (956, 2), (982, 2)]
r_lim = (1.43, 0.4, -0.64)

models = ["CNN-LSTM Clayton", "CNN-LSTM Gumbel", "CNN-LSTM Clayton Gumbel",
          "CNN-LSTM ReLU", "CNN-LSTM Clayton-ReLU", "CNN-LSTM Sigmoid"]
cap_models = ["CNN-LSTM Clayton", "CNN-LSTM Gumbel", "CNN-LSTM Clayton-Gumbel",
              "CNN-LSTM ReLU", "CNN-LSTM Clayton-ReLU", "CNN-LSTM Sigmoid"]
letters = "abcdefghijklmnopqr"

series = [
    (a_base, a_spk, a_lim), (b_base, b_spk, b_lim), (c_base, c_spk, c_lim),
    (d_base, d_spk, d_lim), (e_base, e_spk, e_lim), ([int(ch) for ch in f_bits], f_spk, f_lim),
    (g_base, g_spk, g_lim), (h_base, h_spk, h_lim), (i_base, i_spk, i_lim),
    (j_base, j_spk, j_lim), (k_base, k_spk, k_lim), (l_base, l_spk, l_lim),
    (m_base, m_spk, m_lim), (n_base, n_spk, n_lim), (o_base, o_spk, o_lim),
    (p_base, p_spk, p_lim), (q_base, q_spk, q_lim), ([int(ch) for ch in r_bits], r_spk, r_lim),
]

# ---------------------------------------------------------------------------
# page geometry (pixels on the 685 x 887 page)
# ---------------------------------------------------------------------------
W, H = 685, 887
# left, right of the plotting panel, x of the chart title
COLS = [(15, 219, 3), (245, 449, 240), (472, 677, 465)]
COL_CENTRE = [113, 340, 570]
# title y, panel top, panel bottom, caption y
ROWS = [(2, 6, 93, 125), (149, 153, 239, 269), (290, 294, 380, 410),
        (460, 465, 544, 573), (606, 611, 693, 722), (752, 757, 839, 868)]

SMALL = dict(family="Liberation Sans, Arial", size=4, color="#4d4d4d")
CAPTION = dict(family="Liberation Serif, Times New Roman", size=15.8, color="black")


def build(base, spikes):
    """merge the base samples with the spikes into one ordered line"""
    n = len(base)
    pts = [((i + 0.5) * 1000 / n, v) for i, v in enumerate(base)] + list(spikes)
    pts.sort(key=lambda p: p[0])
    return [p[0] for p in pts], [p[1] for p in pts]


fig = go.Figure()
axes = {}
shapes = []
annotations = []

for k, (base, spikes, lims) in enumerate(series):
    r, c = divmod(k, 3)
    n = k + 1
    xa = "x" if n == 1 else f"x{n}"
    ya = "y" if n == 1 else f"y{n}"
    left, right, title_x = COLS[c]
    title_y, top, bottom, cap_y = ROWS[r]
    ucl, centre, lcl = lims

    xs, ys = build(base, spikes)
    out = [(x, y) for x, y in zip(xs, ys) if y > ucl or y < lcl]

    # residual line
    fig.add_trace(go.Scatter(x=xs, y=ys, mode="lines", xaxis=xa, yaxis=ya,
                             line=dict(color="rgba(0,0,255,0.8)", width=0.75),
                             hoverinfo="skip", showlegend=False))
    # out of control points
    fig.add_trace(go.Scatter(x=[p[0] for p in out], y=[p[1] for p in out], mode="markers",
                             xaxis=xa, yaxis=ya, marker=dict(color="red", size=3.6),
                             hoverinfo="skip", showlegend=False))

    # control limits and centre line
    for val, col in ((ucl, "rgb(255,40,40)"), (lcl, "rgb(255,40,40)"),
                     (centre, "rgb(40,220,40)")):
        shapes.append(dict(type="line", xref=f"{xa} domain", yref=ya, x0=0, x1=1,
                           y0=val, y1=val, line=dict(color=col, width=0.8, dash="1.5px,1.5px")))

    lo = min(min(ys), lcl)
    hi = max(max(ys), ucl)
    pad = 0.05 * (hi - lo)

    axes["xaxis" if n == 1 else f"xaxis{n}"] = dict(
        domain=[left / W, right / W], anchor=ya, range=[-20, 1020],
        tickvals=[0, 250, 500, 750, 1000], tickfont=SMALL, ticks="",
        title=dict(text="Sample", font=SMALL, standoff=1),
        showgrid=True, gridcolor="#e6e6e6", gridwidth=0.5, zeroline=False, showline=False,
        minor=dict(tickvals=[125, 375, 625, 875], showgrid=True, gridcolor="#f3f3f3", gridwidth=0.4),
        automargin=False, fixedrange=True)
    axes["yaxis" if n == 1 else f"yaxis{n}"] = dict(
        domain=[1 - bottom / H, 1 - top / H], anchor=xa, range=[lo - pad, hi + pad],
        nticks=5, tickfont=SMALL, ticks="",
        title=dict(text="Residuals", font=SMALL, standoff=1),
        showgrid=True, gridcolor="#e6e6e6", gridwidth=0.5, zeroline=False, showline=False,
        minor=dict(showgrid=True, gridcolor="#f3f3f3", gridwidth=0.4),
        automargin=False, fixedrange=True)

    # chart title
    annotations.append(dict(xref="paper", yref="paper", x=title_x / W, y=1 - title_y / H,
                            xanchor="left", yanchor="middle", showarrow=False,
                            text=f"Shewhart Control Chart - Response_{c + 1} ( {models[r]} )",
                            font=dict(family="Liberation Sans, Arial", size=4, color="#222")))

    # sub-figure caption
    if r != 2:
        annotations.append(dict(xref="paper", yref="paper", x=COL_CENTRE[c] / W, y=1 - cap_y / H,
                                xanchor="center", yanchor="middle", showarrow=False,
                                text=f"({letters[k]}) {cap_models[r]} <i>Y</i><sub>{c + 1}</sub>",
                                font=CAPTION))

# row 3 captions are justified over two lines
row3 = [("(g)", 1, 69.1, 225), ("(h)", 227, 295.1, 451), ("(i)", 455, 523.9, 684)]
for c, (lab, e, mid, rgt) in enumerate(row3):
    y1 = 1 - 410 / H
    y2 = 1 - 429 / H
    annotations.append(dict(xref="paper", yref="paper", x=e / W, y=y1, xanchor="left",
                            yanchor="middle", showarrow=False, text=lab, font=CAPTION))
    annotations.append(dict(xref="paper", yref="paper", x=mid / W, y=y1, xanchor="center",
                            yanchor="middle", showarrow=False, text="CNN-LSTM", font=CAPTION))
    annotations.append(dict(xref="paper", yref="paper", x=rgt / W, y=y1, xanchor="right",
                            yanchor="middle", showarrow=False, text="Clayton-Gumbel", font=CAPTION))
    annotations.append(dict(xref="paper", yref="paper", x=e / W, y=y2, xanchor="left",
                            yanchor="middle", showarrow=False,
                            text=f"<i>Y</i><sub>{c + 1}</sub>", font=CAPTION))

fig.update_layout(width=W, height=H, autosize=False,
                  margin=dict(l=0, r=0, t=0, b=0),
                  paper_bgcolor="white", plot_bgcolor="white",
                  shapes=shapes, annotations=annotations, showlegend=False, **axes)

# the page's default body margin would push the figure 8 px off the window
fig.write_html("out.html", config={"displayModeBar": False},
               post_script="document.body.style.margin='0px';")
